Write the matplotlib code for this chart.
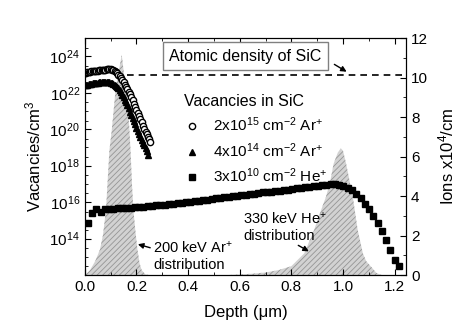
import numpy as np
import matplotlib
matplotlib.use('Agg')
import matplotlib.pyplot as plt
from matplotlib.ticker import (MultipleLocator, FixedLocator, LogLocator, NullFormatter,
                               LogFormatterMathtext)

plt.rcParams['font.family'] = ['Liberation Sans', 'DejaVu Sans']
plt.rcParams['mathtext.fontset'] = 'custom'
plt.rcParams['mathtext.rm'] = 'Liberation Sans'
plt.rcParams['mathtext.it'] = 'Liberation Sans:italic'
plt.rcParams['hatch.linewidth'] = 0.6

# ion range distributions (right axis, ions x10^4/cm)
ar_dist_depth = [0.0, 0.02, 0.04, 0.058, 0.07, 0.082, 0.095, 0.104, 0.12, 0.143,
                 0.155, 0.163, 0.172, 0.177, 0.183, 0.188, 0.196, 0.204, 0.212,
                 0.22, 0.235, 0.25]
ar_dist_ions = [0.0, 0.25, 0.7, 1.27, 2.0, 3.3, 6.3, 7.3, 9.5, 11.15,
                9.8, 9.0, 7.5, 6.3, 4.5, 3.3, 2.2, 1.27, 0.6,
                0.25, 0.03, 0.0]

he_dist_depth = [0.55, 0.6, 0.65, 0.7, 0.75, 0.8, 0.85, 0.888, 0.91, 0.934, 0.95,
                 0.964, 0.98, 0.992, 1.0, 1.012, 1.025, 1.038, 1.057, 1.077,
                 1.09, 1.109, 1.13, 1.15]
he_dist_ions = [0.0, 0.03, 0.07, 0.13, 0.25, 0.45, 1.1, 2.28, 3.1, 3.96, 4.7,
                5.65, 6.2, 6.41, 6.3, 5.65, 4.8, 3.96, 2.28, 1.1,
                0.7, 0.42, 0.1, 0.0]

# vacancy profiles, log10(vacancies/cm^3)
ar15_depth = [0.0, 0.005, 0.01, 0.015, 0.02, 0.025, 0.03, 0.035, 0.04, 0.045, 0.05,
              0.055, 0.06, 0.065, 0.07, 0.075, 0.08, 0.085, 0.09, 0.095, 0.1, 0.105,
              0.11, 0.115, 0.12, 0.125, 0.13, 0.135, 0.14, 0.145, 0.15, 0.155,
              0.16, 0.165, 0.17, 0.175, 0.18, 0.185, 0.19, 0.195, 0.2, 0.205,
              0.21, 0.215, 0.22, 0.225, 0.23, 0.235, 0.24, 0.245, 0.25, 0.253]
ar15_log = [23.08, 23.1, 23.12, 23.14, 23.15, 23.17, 23.18, 23.19, 23.2, 23.21, 23.22,
            23.23, 23.24, 23.25, 23.26, 23.27, 23.27, 23.28, 23.28, 23.28, 23.28, 23.27,
            23.24, 23.2, 23.15, 23.08, 23.0, 22.9, 22.8, 22.7, 22.58, 22.45,
            22.32, 22.18, 22.05, 21.92, 21.76, 21.58, 21.41, 21.23, 21.06, 20.88,
            20.71, 20.54, 20.37, 20.2, 20.03, 19.87, 19.72, 19.58, 19.45, 19.3]

ar14_depth = [0.0, 0.005, 0.01, 0.015, 0.02, 0.025, 0.03, 0.035, 0.04, 0.045, 0.05,
              0.055, 0.06, 0.065, 0.07, 0.075, 0.08, 0.085, 0.09, 0.095, 0.1, 0.105,
              0.11, 0.115, 0.12, 0.125, 0.13, 0.135, 0.14, 0.145, 0.15, 0.155,
              0.16, 0.165, 0.17, 0.175, 0.18, 0.185, 0.19, 0.195, 0.2, 0.205,
              0.21, 0.215, 0.22, 0.225, 0.23, 0.235, 0.24, 0.246]
ar14_log = [22.4, 22.43, 22.45, 22.47, 22.48, 22.5, 22.51, 22.53, 22.54, 22.55, 22.56,
            22.57, 22.58, 22.59, 22.6, 22.6, 22.6, 22.6, 22.6, 22.59, 22.56, 22.52,
            22.48, 22.42, 22.36, 22.3, 22.25, 22.15, 22.03, 21.9, 21.76, 21.62,
            21.48, 21.32, 21.15, 20.97, 20.8, 20.62, 20.44, 20.27, 20.09, 19.92,
            19.74, 19.57, 19.41, 19.27, 19.13, 18.98, 18.82, 18.6]

he_depth = [0.012, 0.029, 0.045, 0.062, 0.078, 0.095, 0.111, 0.128, 0.144, 0.161,
            0.177, 0.194, 0.21, 0.227, 0.243, 0.26, 0.276, 0.293, 0.309, 0.326,
            0.342, 0.359, 0.375, 0.392, 0.408, 0.425, 0.441, 0.458, 0.474, 0.491,
            0.507, 0.524, 0.54, 0.557, 0.573, 0.59, 0.606, 0.623, 0.639, 0.656,
            0.672, 0.689, 0.705, 0.722, 0.738, 0.755, 0.771, 0.788, 0.804, 0.821,
            0.837, 0.854, 0.87, 0.887, 0.903, 0.92, 0.936, 0.953, 0.969, 0.986,
            1.002, 1.019, 1.035, 1.052, 1.068, 1.085, 1.101, 1.118, 1.134, 1.151,
            1.167, 1.184, 1.2, 1.217]
he_log = [14.87, 15.42, 15.6, 15.47, 15.62, 15.63, 15.64, 15.66, 15.67, 15.69,
          15.7, 15.72, 15.74, 15.76, 15.78, 15.8, 15.82, 15.85, 15.87, 15.89,
          15.92, 15.94, 15.97, 15.99, 16.02, 16.05, 16.08, 16.11, 16.14, 16.17,
          16.2, 16.23, 16.26, 16.29, 16.32, 16.35, 16.38, 16.41, 16.44, 16.47,
          16.5, 16.53, 16.55, 16.58, 16.61, 16.63, 16.66, 16.69, 16.72, 16.75,
          16.78, 16.81, 16.84, 16.87, 16.9, 16.93, 16.95, 16.97, 16.97, 16.95,
          16.9, 16.8, 16.66, 16.47, 16.2, 15.9, 15.6, 15.25, 14.85, 14.4,
          13.95, 13.4, 12.85, 12.5]

sic_density = 9.64e22
vac_ticks = [1e14, 1e16, 1e18, 1e20, 1e22, 1e24]

fig = plt.figure(figsize=(4.74, 3.31), dpi=100)
ax = fig.add_axes([0.179, 0.169, 0.678, 0.716])
ax2 = ax.twinx()

# ion distributions go underneath the vacancy data
ax.set_zorder(ax2.get_zorder() + 1)
ax.patch.set_visible(False)

ax2.fill_between(ar_dist_depth, ar_dist_ions, 0, facecolor='#d2d2d2',
                 edgecolor='#959595', hatch='//////', linewidth=0)
ax2.fill_between(he_dist_depth, he_dist_ions, 0, facecolor='#d2d2d2',
                 edgecolor='#959595', hatch='//////', linewidth=0)
ax2.set_ylim(0, 12)
ax2.yaxis.set_major_locator(MultipleLocator(2))
ax2.yaxis.set_minor_locator(MultipleLocator(1))
ax2.tick_params(axis='y', which='both', direction='in', labelsize=11)
ax2.tick_params(which='major', length=4)
ax2.tick_params(which='minor', length=2)
ax2.set_ylabel(r'Ions x10$^{4}$/cm', fontsize=12, labelpad=6)

ax.axhline(sic_density, xmin=0.13, xmax=1.0, color='black', lw=1.2, ls=(0, (4, 3)))

l1, = ax.plot(ar15_depth, 10 ** np.array(ar15_log), 'o', ms=4.5, mfc='white',
              mec='black', mew=1.0, ls='none')
l2, = ax.plot(ar14_depth, 10 ** np.array(ar14_log), '^', ms=5, color='black', ls='none')
l3, = ax.plot(he_depth, 10 ** np.array(he_log), 's', ms=4.5, color='black', ls='none')

ax.set_yscale('log')
ax.set_ylim(1e12, 1e25)
ax.set_xlim(0, 1.245)
ax.yaxis.set_major_locator(FixedLocator(vac_ticks))
ax.yaxis.set_major_formatter(LogFormatterMathtext(base=10))
ax.yaxis.set_minor_locator(LogLocator(base=10, subs=(1.0, 3.0), numticks=30))
ax.yaxis.set_minor_formatter(NullFormatter())
ax.xaxis.set_major_locator(MultipleLocator(0.2))
ax.xaxis.set_minor_locator(MultipleLocator(0.1))
ax.xaxis.set_major_formatter(plt.FuncFormatter(lambda v, p: '%.1f' % v))
ax.tick_params(which='both', direction='in', top=True, labelsize=11)
ax.tick_params(which='major', length=4)
ax.tick_params(which='minor', length=2)
ax.set_xlabel('Depth (μm)', fontsize=12, labelpad=8)
ax.set_ylabel(r'Vacancies/cm$^{3}$', fontsize=12, labelpad=4)

ax.text(0.50, 0.924, 'Atomic density of SiC', transform=ax.transAxes, fontsize=11.5,
        ha='center', va='center',
        bbox=dict(boxstyle='square,pad=0.4', fc='white', ec='#808080', lw=1))
ax.annotate('', xy=(0.822, 0.852), xytext=(0.769, 0.895), xycoords='axes fraction',
            arrowprops=dict(arrowstyle='-|>', color='black', lw=1, mutation_scale=8))

leg = ax.legend([l1, l2, l3],
                [r'2x10$^{15}$ cm$^{-2}$ Ar$^{+}$',
                 r'4x10$^{14}$ cm$^{-2}$ Ar$^{+}$',
                 r'3x10$^{10}$ cm$^{-2}$ He$^{+}$'],
                title='Vacancies in SiC', title_fontsize=11.5, fontsize=11,
                loc='upper left', bbox_to_anchor=(0.29, 0.79), frameon=False,
                handlelength=1.0, handletextpad=0.9, labelspacing=0.45,
                borderaxespad=0, alignment='left')

ax.annotate('200 keV Ar$^{+}$\ndistribution', xy=(0.165, 0.13), xytext=(0.212, 0.082),
            xycoords='axes fraction', fontsize=10.5, ha='left', va='center',
            arrowprops=dict(arrowstyle='-|>', color='black', lw=1, mutation_scale=8,
                            shrinkA=0, shrinkB=0, relpos=(0, 0.72)))
ax.annotate('330 keV He$^{+}$\ndistribution', xy=(0.697, 0.1), xytext=(0.492, 0.205),
            xycoords='axes fraction', fontsize=10.5, ha='left', va='center',
            arrowprops=dict(arrowstyle='-|>', color='black', lw=1, mutation_scale=8,
                            shrinkA=0, shrinkB=0, relpos=(0.6, 0.0)))

fig.savefig('out.png', dpi=100)
